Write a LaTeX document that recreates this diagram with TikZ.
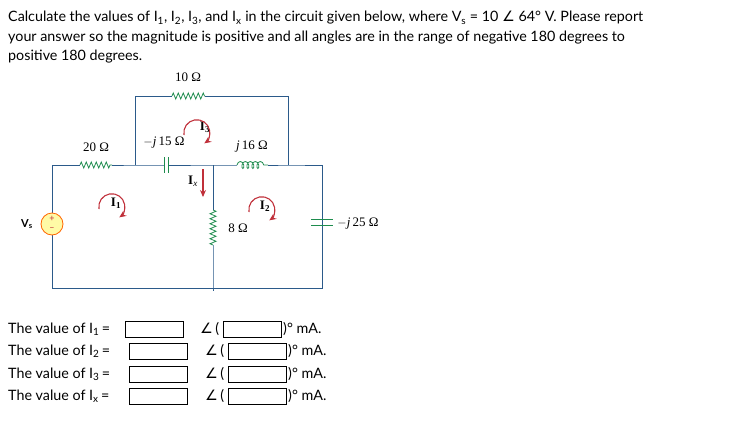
\documentclass[tikz,border=0pt]{standalone}
\usepackage{fontspec}
\setmainfont{Lato}
\newfontfamily\ckt{Liberation Serif}
\newfontfamily\djv{DejaVu Sans}
\usetikzlibrary{decorations.pathmorphing,arrows.meta}
\definecolor{wire}{HTML}{2B5A8A}
\definecolor{comp}{HTML}{1E8C4E}
\definecolor{arr}{HTML}{C0303A}
\tikzset{
 txt/.style={anchor=west,inner sep=0pt,font=\fontsize{14.3}{16}\selectfont},
 lab/.style={inner sep=0pt,font=\ckt\fontsize{13}{14}\selectfont},
 res/.style={draw=comp,line width=0.8pt,decorate,decoration={zigzag,segment length=5pt,amplitude=3pt}},
 ind/.style={draw=comp,line width=0.8pt,decorate,decoration={coil,aspect=0.6,segment length=5pt,amplitude=3.5pt}},
 wr/.style={draw=wire,line width=0.8pt},
 loop/.style={draw=arr,line width=1.1pt,-{Stealth[length=7pt,width=6pt]}},
 ansbox/.style={draw,line width=0.7pt,minimum width=58pt,minimum height=16pt,inner sep=0pt}
}
\begin{document}
\begin{tikzpicture}[x=1pt,y=-1pt]
\useasboundingbox (0,0) rectangle (732,421);
\node[txt] (l1) at (8,18) {Calculate the values of I\textsubscript{1}, I\textsubscript{2}, I\textsubscript{3}, and I\textsubscript{x} in the circuit given below, where V\textsubscript{s} = 10 {\djv∠} 64° V. Please report};
\node[txt] (l2) at (8,38) {your answer so the magnitude is positive and all angles are in the range of negative 180 degrees to};
\node[txt] (l3) at (8,57) {positive 180 degrees.};
% nodes of circuit
\coordinate (tl) at (52,165); \coordinate (bl) at (52,288);
\coordinate (a) at (135,165); \coordinate (m) at (213,165);
\coordinate (b) at (288,165); \coordinate (r) at (322,165);
\coordinate (br) at (322,288); \coordinate (mb) at (213,288);
\coordinate (ta) at (135,96); \coordinate (tb) at (288,96);
% wires
\draw[wr] (bl) -- (br) -- (322,219);
\draw[wr] (322,225) -- (r) -- (b) -- (268,165);
\draw[wr] (237,165) -- (m) -- (168,165);
\draw[wr] (164,165) -- (a) -- (112,165);
\draw[wr] (80,165) -- (tl) -- (52,213);
\draw[wr] (52,235) -- (bl);
\draw[wr] (a) -- (ta) -- (172,96); \draw[wr] (205,96) -- (tb) -- (b);
\draw[wr] (m) -- (213,210); \draw[wr] (213,245) -- (mb) -- (213,291);
% components
\draw[res] (80,165) -- (112,165);
\draw[res] (172,96) -- (205,96);
\draw[res] (213,210) -- (213,245);
\draw[ind] (237,165) -- (268,165);
\draw[draw=comp,line width=0.9pt] (164,157) -- (164,173) (168,157) -- (168,173);
\draw[draw=comp,line width=0.9pt] (311,219) -- (333,219) (311,225) -- (333,225);
\node[circle,draw=orange!80!red,fill=yellow!35,line width=0.8pt,minimum size=22pt,inner sep=0pt] (vs) at (52,224) {};
\node[inner sep=0pt,font=\fontsize{9}{9}\selectfont,text=arr] at (52,219) {+};
\node[inner sep=0pt,font=\fontsize{9}{9}\selectfont,text=arr] at (52,229) {--};
\node[inner sep=0pt,font=\bfseries\fontsize{11}{12}\selectfont] (vsl) at (27,224) {V\textsubscript{s}};
% labels
\node[lab] (r10) at (188,77) {10 Ω};
\node[lab] (r20) at (96,147) {20 Ω};
\node[lab] (c15) at (164,143) {$-$\textit{j}\,15 Ω};
\node[lab] (l16) at (252,147) {\textit{j}\,16 Ω};
\node[lab] (r8) at (238,228) {8 Ω};
\node[lab] (c25) at (358,224) {$-$\textit{j}\,25 Ω};
\node[lab] (i1) at (116,203) {\textbf{I}\textsubscript{\textbf{1}}};
\node[lab] (i2) at (265,206) {\textbf{I}\textsubscript{\textbf{2}}};
\node[lab] (i3) at (205,127) {\textbf{I}\textsubscript{\textbf{3}}};
\node[lab] (ix) at (193,181) {\textbf{I}\textsubscript{\textit{x}}};
\draw[loop] (99,209) arc[start angle=-190,end angle=55,radius=13];
\draw[loop] (249,212) arc[start angle=-190,end angle=55,radius=13];
\draw[loop] (184,135) arc[start angle=-190,end angle=55,radius=13];
\coordinate (ixs) at (203,169); \coordinate (ixe) at (203,197);
\draw[arr,line width=1.1pt,-{Stealth[length=7pt,width=6pt]}] (ixs) -- (ixe);
% answers
\foreach \y/\s/\x/\xx in {329/1/125/223,351/2/129/228,374/3/129/228,396/x/129/228}{
 \node[txt] at (8,\y) {The value of I\textsubscript{\s}\,=};
 \node[ansbox,anchor=west] at (\x,\y) {};
 \node[txt] at (\xx-23,\y) {{\djv∠}\,(};
 \node[ansbox,anchor=west] at (\xx,\y) {};
 \node[txt] at (\xx+60,\y) {)° mA.};
}
\end{tikzpicture}
\end{document}
